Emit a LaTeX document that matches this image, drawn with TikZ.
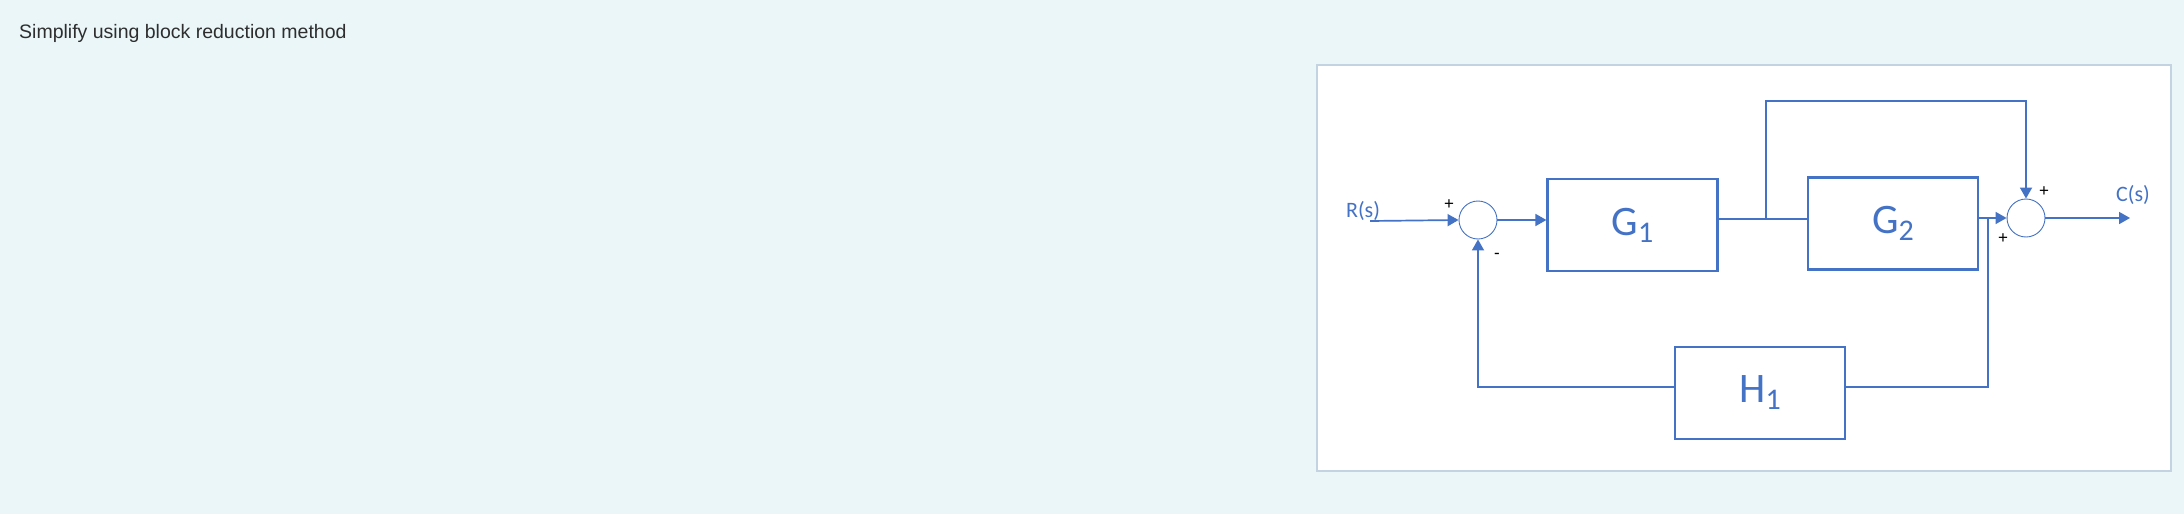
\documentclass[tikz,border=0pt]{standalone}
\usepackage{fontspec}
\setmainfont{Liberation Sans}
\newfontfamily\blkfont{Carlito}
\usetikzlibrary{arrows.meta}
\definecolor{bgc}{HTML}{EAF6F8}
\definecolor{panelc}{HTML}{C3D3E2}
\definecolor{blu}{HTML}{4472C4}
\definecolor{titlec}{HTML}{2E2E2E}
\newcommand{\blk}[2]{#1{\fontsize{30}{30}\selectfont\raisebox{-7pt}{#2}}}
\begin{document}
\begin{tikzpicture}[x=1pt,y=-1pt,
  block/.style={draw=blu, line width=2.2pt, fill=white, minimum width=170pt, minimum height=92pt, inner sep=0pt, text=blu, font=\blkfont\fontsize{42}{42}\selectfont},
  sumc/.style={draw=blu, line width=0.9pt, circle, minimum size=38pt, inner sep=0pt, fill=white},
  wire/.style={draw=blu, line width=1.7pt},
  arr/.style={wire, -{Triangle[length=11pt,width=12pt]}},
  sig/.style={text=blu, font=\blkfont\fontsize{22}{22}\selectfont, inner sep=0pt},
  sgn/.style={text=black, font=\fontsize{17}{17}\selectfont, inner sep=0pt}]
\fill[bgc] (0,0) rectangle (2184,514);
\useasboundingbox (0,0) rectangle (2184,514);
\node[anchor=west, text=titlec, font=\fontsize{19.5}{19.5}\selectfont, inner sep=0pt] (title) at (19,33) {Simplify using block reduction method};
\draw[panelc, line width=2pt, fill=white] (1317,65) rectangle (2171,471);
% blocks
\node[block] (G1) at (1632.5,225) {\blk{G}{1}};
\node[block] (G2) at (1893,223.5) {\blk{G}{2}};
\node[block] (H1) at (1760,393) {\blk{H}{1}};
\node[sumc] (S1) at (1478,220) {};
\node[sumc] (S2) at (2026,218) {};
% coordinates
\coordinate (rin) at (1370,221);
\coordinate (br) at (1766,219);
\coordinate (top) at (1766,101);
\coordinate (fb) at (1988,218);
\coordinate (fbb) at (1988,387);
\coordinate (cout) at (2130,218);
% labels
\node[sig] (Rl) at (1363,211) {R(s)};
\node[sig] (Cl) at (2133,195) {C(s)};
\node[sgn] (p1) at (1449,205) {+};
\node[sgn] (m1) at (1497,256) {-};
\node[sgn] (p2) at (2044,192) {+};
\node[sgn] (p3) at (2003,239) {+};
% connectors
\draw[arr] (rin) -- (S1.west);
\draw[arr] (S1.east) -- (G1.west |- S1.east);
\draw[wire] (G1.east |- br) -- (br) -- (G2.west |- br);
\draw[arr] (br) -- (top) -| (S2.north);
\draw[arr] (G2.east |- S2.west) -- (S2.west);
\draw[wire] (fb) -- (fbb) -- (H1.east |- fbb);
\draw[arr] (H1.west |- fbb) -| (S1.south);
\draw[arr] (S2.east) -- (cout);
\end{tikzpicture}
\end{document}
